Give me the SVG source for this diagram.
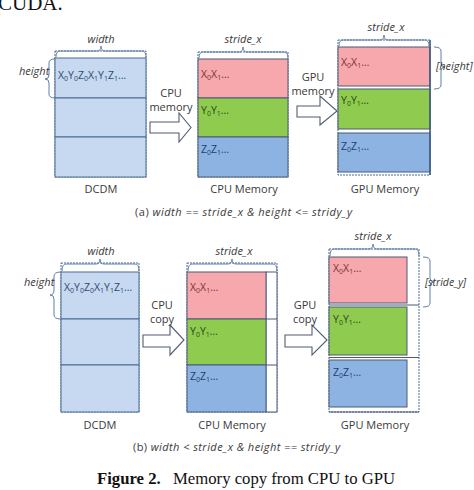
<svg xmlns="http://www.w3.org/2000/svg" width="474" height="490" viewBox="0 0 474 490">
<style>
.lbl{font-family:"Open Sans","Noto Sans",sans-serif;font-size:11px;fill:#3a3a3a}
.it{font-family:"Open Sans","Noto Sans",sans-serif;font-size:11px;font-style:italic;fill:#3a3a3a}
.cell{font-family:"Open Sans","Noto Sans",sans-serif;font-size:10.5px}
.sub{font-size:7px}
.br{fill:none;stroke:#5f7ea8;stroke-width:1}
.dc{fill:#c6d9f1;stroke:#4a6a92;stroke-width:1}
.pk{fill:#f6a8ad;stroke:#4a5a7a;stroke-width:1}
.gr{fill:#8fcb4e;stroke:#4a5a7a;stroke-width:1}
.bl{fill:#8db3e2;stroke:#4a5a7a;stroke-width:1}
.out{fill:#fff;stroke:#4a6a92;stroke-width:1;stroke-dasharray:2 1}
.arr{fill:#fff;stroke:#4e5d72;stroke-width:1.1}
.cap{font-family:"Liberation Serif",serif;font-size:16.7px;fill:#111}
</style>
<text x="-2" y="10" style="font-family:'Liberation Serif',serif;font-size:21px;fill:#111">CUDA.</text>

<!-- (a) DCDM -->
<g id="a-dcdm">
<rect class="out" x="55" y="51" width="91" height="126"/>
<rect class="dc" x="55" y="58" width="91" height="40"/>
<rect class="dc" x="55" y="98" width="91" height="39"/>
<rect class="dc" x="55" y="137" width="91" height="40"/>
<text class="cell" x="58" y="79" fill="#2f4a6e">X<tspan class="sub" dy="2">0</tspan><tspan dy="-2">Y</tspan><tspan class="sub" dy="2">0</tspan><tspan dy="-2">Z</tspan><tspan class="sub" dy="2">0</tspan><tspan dy="-2">X</tspan><tspan class="sub" dy="2">1</tspan><tspan dy="-2">Y</tspan><tspan class="sub" dy="2">1</tspan><tspan dy="-2">Z</tspan><tspan class="sub" dy="2">1</tspan><tspan dy="-2">…</tspan></text>
<path class="br" d="M56,57 Q56,51 60,51 L97,51 Q101,51 101,46 Q101,51 105,51 L142,51 Q146,51 146,57"/>
<text class="it" x="101" y="43" text-anchor="middle">width</text>
<path class="br" d="M55,59 Q49,59 49,63 L49,75 Q49,79 45,79 Q49,79 49,83 L49,94 Q49,98 55,98"/>
<text class="it" x="19" y="75">height</text>
<text class="lbl" x="101" y="193" text-anchor="middle">DCDM</text>
</g>

<!-- (a) CPU Memory -->
<g id="a-cpu">
<rect class="out" x="198" y="52" width="90" height="125"/>
<rect class="pk" x="198" y="59" width="90" height="39"/>
<rect class="gr" x="198" y="98" width="90" height="39"/>
<rect class="bl" x="198" y="137" width="90" height="40"/>
<text class="cell" x="201" y="78" fill="#7a3535">X<tspan class="sub" dy="2">0</tspan><tspan dy="-2">X</tspan><tspan class="sub" dy="2">1</tspan><tspan dy="-2">…</tspan></text>
<text class="cell" x="201" y="114" fill="#2f4a1a">Y<tspan class="sub" dy="2">0</tspan><tspan dy="-2">Y</tspan><tspan class="sub" dy="2">1</tspan><tspan dy="-2">…</tspan></text>
<text class="cell" x="201" y="153" fill="#253f6a">Z<tspan class="sub" dy="2">0</tspan><tspan dy="-2">Z</tspan><tspan class="sub" dy="2">1</tspan><tspan dy="-2">…</tspan></text>
<path class="br" d="M199,58 Q199,52 203,52 L239,52 Q243,52 243,47 Q243,52 247,52 L284,52 Q288,52 288,58"/>
<text class="it" x="243" y="43" text-anchor="middle">stride_x</text>
<text class="lbl" x="244" y="193" text-anchor="middle">CPU Memory</text>
</g>

<!-- (a) GPU Memory -->
<g id="a-gpu">
<rect class="out" x="338" y="40" width="92" height="135"/>
<rect class="pk" x="338" y="47" width="92" height="39"/>
<rect class="gr" x="338" y="89" width="92" height="40"/>
<rect class="bl" x="338" y="133" width="92" height="39"/>
<line x1="430" y1="40" x2="430" y2="175" stroke="#3d5a80" stroke-width="1.5"/>
<text class="cell" x="341" y="66" fill="#7a3535">X<tspan class="sub" dy="2">0</tspan><tspan dy="-2">X</tspan><tspan class="sub" dy="2">1</tspan><tspan dy="-2">…</tspan></text>
<text class="cell" x="341" y="104" fill="#2f4a1a">Y<tspan class="sub" dy="2">0</tspan><tspan dy="-2">Y</tspan><tspan class="sub" dy="2">1</tspan><tspan dy="-2">…</tspan></text>
<text class="cell" x="341" y="150" fill="#253f6a">Z<tspan class="sub" dy="2">0</tspan><tspan dy="-2">Z</tspan><tspan class="sub" dy="2">1</tspan><tspan dy="-2">…</tspan></text>
<path class="br" d="M339,46 Q339,40 343,40 L380,40 Q384,40 384,35 Q384,40 388,40 L425,40 Q429,40 429,46"/>
<text class="it" x="386" y="31" text-anchor="middle">stride_x</text>
<path class="br" d="M434,47 Q441,47 441,51 L441,63 Q441,67 445,67 Q441,67 441,71 L441,85 Q441,89 434,89"/>
<text class="it" x="436" y="70">[height]</text>
<text class="lbl" x="385" y="193" text-anchor="middle">GPU Memory</text>
</g>

<!-- (b) DCDM -->
<g id="b-dcdm">
<rect class="out" x="61" y="263" width="78" height="149"/>
<rect class="dc" x="61" y="272" width="78" height="47"/>
<rect class="dc" x="61" y="319" width="78" height="46"/>
<rect class="dc" x="61" y="365" width="78" height="47"/>
<text class="cell" x="64" y="291" fill="#2f4a6e">X<tspan class="sub" dy="2">0</tspan><tspan dy="-2">Y</tspan><tspan class="sub" dy="2">0</tspan><tspan dy="-2">Z</tspan><tspan class="sub" dy="2">0</tspan><tspan dy="-2">X</tspan><tspan class="sub" dy="2">1</tspan><tspan dy="-2">Y</tspan><tspan class="sub" dy="2">1</tspan><tspan dy="-2">Z</tspan><tspan class="sub" dy="2">1</tspan><tspan dy="-2">…</tspan></text>
<path class="br" d="M62,271 Q62,264 66,264 L96,264 Q100,264 100,259 Q100,264 104,264 L135,264 Q139,264 139,271"/>
<text class="it" x="101" y="255" text-anchor="middle">width</text>
<path class="br" d="M61,272 Q54,272 54,276 L54,290 Q54,295 50,295 Q54,295 54,299 L54,315 Q54,319 61,319"/>
<text class="it" x="24" y="286">height</text>
<text class="lbl" x="100" y="429" text-anchor="middle">DCDM</text>
</g>

<!-- (b) CPU Memory -->
<g id="b-cpu">
<rect class="out" x="187" y="263" width="90" height="149"/>
<rect x="266" y="272" width="11" height="140" fill="#fff" stroke="#4a5a7a" stroke-width="1"/>
<line x1="266" y1="319" x2="277" y2="319" stroke="#4a5a7a"/>
<line x1="266" y1="365" x2="277" y2="365" stroke="#4a5a7a"/>
<rect class="pk" x="187" y="272" width="79" height="47"/>
<rect class="gr" x="187" y="319" width="79" height="46"/>
<rect class="bl" x="187" y="365" width="79" height="47"/>
<text class="cell" x="190" y="291" fill="#7a3535">X<tspan class="sub" dy="2">0</tspan><tspan dy="-2">X</tspan><tspan class="sub" dy="2">1</tspan><tspan dy="-2">…</tspan></text>
<text class="cell" x="190" y="335" fill="#2f4a1a">Y<tspan class="sub" dy="2">0</tspan><tspan dy="-2">Y</tspan><tspan class="sub" dy="2">1</tspan><tspan dy="-2">…</tspan></text>
<text class="cell" x="190" y="380" fill="#253f6a">Z<tspan class="sub" dy="2">0</tspan><tspan dy="-2">Z</tspan><tspan class="sub" dy="2">1</tspan><tspan dy="-2">…</tspan></text>
<path class="br" d="M188,271 Q188,264 192,264 L228,264 Q232,264 232,259 Q232,264 236,264 L273,264 Q277,264 277,271"/>
<text class="it" x="234" y="255" text-anchor="middle">stride_x</text>
<text class="lbl" x="232" y="429" text-anchor="middle">CPU Memory</text>
</g>

<!-- (b) GPU Memory -->
<g id="b-gpu">
<rect class="out" x="329" y="249" width="90" height="163"/>
<rect class="pk" x="329" y="257" width="78" height="46"/>
<rect class="gr" x="329" y="307" width="78" height="48"/>
<rect class="bl" x="329" y="360" width="78" height="47"/>
<line x1="329" y1="305" x2="419" y2="305" stroke="#4a5a7a"/>
<line x1="329" y1="357.5" x2="419" y2="357.5" stroke="#4a5a7a"/>
<line x1="329" y1="412" x2="419" y2="412" stroke="#4a5a7a"/>
<text class="cell" x="333" y="272" fill="#7a3535">X<tspan class="sub" dy="2">0</tspan><tspan dy="-2">X</tspan><tspan class="sub" dy="2">1</tspan><tspan dy="-2">…</tspan></text>
<text class="cell" x="333" y="323" fill="#2f4a1a">Y<tspan class="sub" dy="2">0</tspan><tspan dy="-2">Y</tspan><tspan class="sub" dy="2">1</tspan><tspan dy="-2">…</tspan></text>
<text class="cell" x="333" y="376" fill="#253f6a">Z<tspan class="sub" dy="2">0</tspan><tspan dy="-2">Z</tspan><tspan class="sub" dy="2">1</tspan><tspan dy="-2">…</tspan></text>
<path class="br" d="M330,256 Q330,249 334,249 L369,249 Q373,249 373,244 Q373,249 377,249 L415,249 Q419,249 419,256"/>
<text class="it" x="373" y="240" text-anchor="middle">stride_x</text>
<path class="br" d="M423,257 Q430,257 430,261 L430,278 Q430,282 434,282 Q430,282 430,286 L430,303 Q430,307 423,307"/>
<text class="it" x="425" y="286" style="font-size:10.5px">[stride_y]</text>
<text class="lbl" x="375" y="429" text-anchor="middle">GPU Memory</text>
</g>

<!-- connectors -->
<g id="connectors">
<path class="arr" d="M150,122 L179,122 L179,113 L191,127.5 L179,142 L179,133 L150,133 Z"/>
<text class="lbl" x="171" y="97" text-anchor="middle">CPU</text>
<text class="lbl" x="171" y="111" text-anchor="middle">memory</text>
<path class="arr" d="M297,106 L320,106 L320,96 L337,111 L320,125 L320,117 L297,117 Z"/>
<text class="lbl" x="313" y="81" text-anchor="middle">GPU</text>
<text class="lbl" x="313" y="95" text-anchor="middle">memory</text>
<path class="arr" d="M143,335 L170,335 L170,325 L184,340 L170,355 L170,347 L143,347 Z"/>
<text class="lbl" x="162" y="309" text-anchor="middle">CPU</text>
<text class="lbl" x="162" y="323" text-anchor="middle">copy</text>
<path class="arr" d="M285,335 L312,335 L312,325 L327,340 L312,355 L312,347 L285,347 Z"/>
<text class="lbl" x="305" y="309" text-anchor="middle">GPU</text>
<text class="lbl" x="305" y="323" text-anchor="middle">copy</text>
</g>

<text class="lbl" x="135" y="216" textLength="217" lengthAdjust="spacing">(a) <tspan font-style="italic">width == stride_x &amp; height &lt;= stridy_y</tspan></text>
<text class="lbl" x="133" y="451" textLength="207" lengthAdjust="spacing">(b) <tspan font-style="italic">width &lt; stride_x &amp; height == stridy_y</tspan></text>
<text class="cap" x="97" y="484" font-weight="bold">Figure 2.</text>
<text class="cap" x="173" y="484">Memory copy from CPU to GPU</text>
</svg>
